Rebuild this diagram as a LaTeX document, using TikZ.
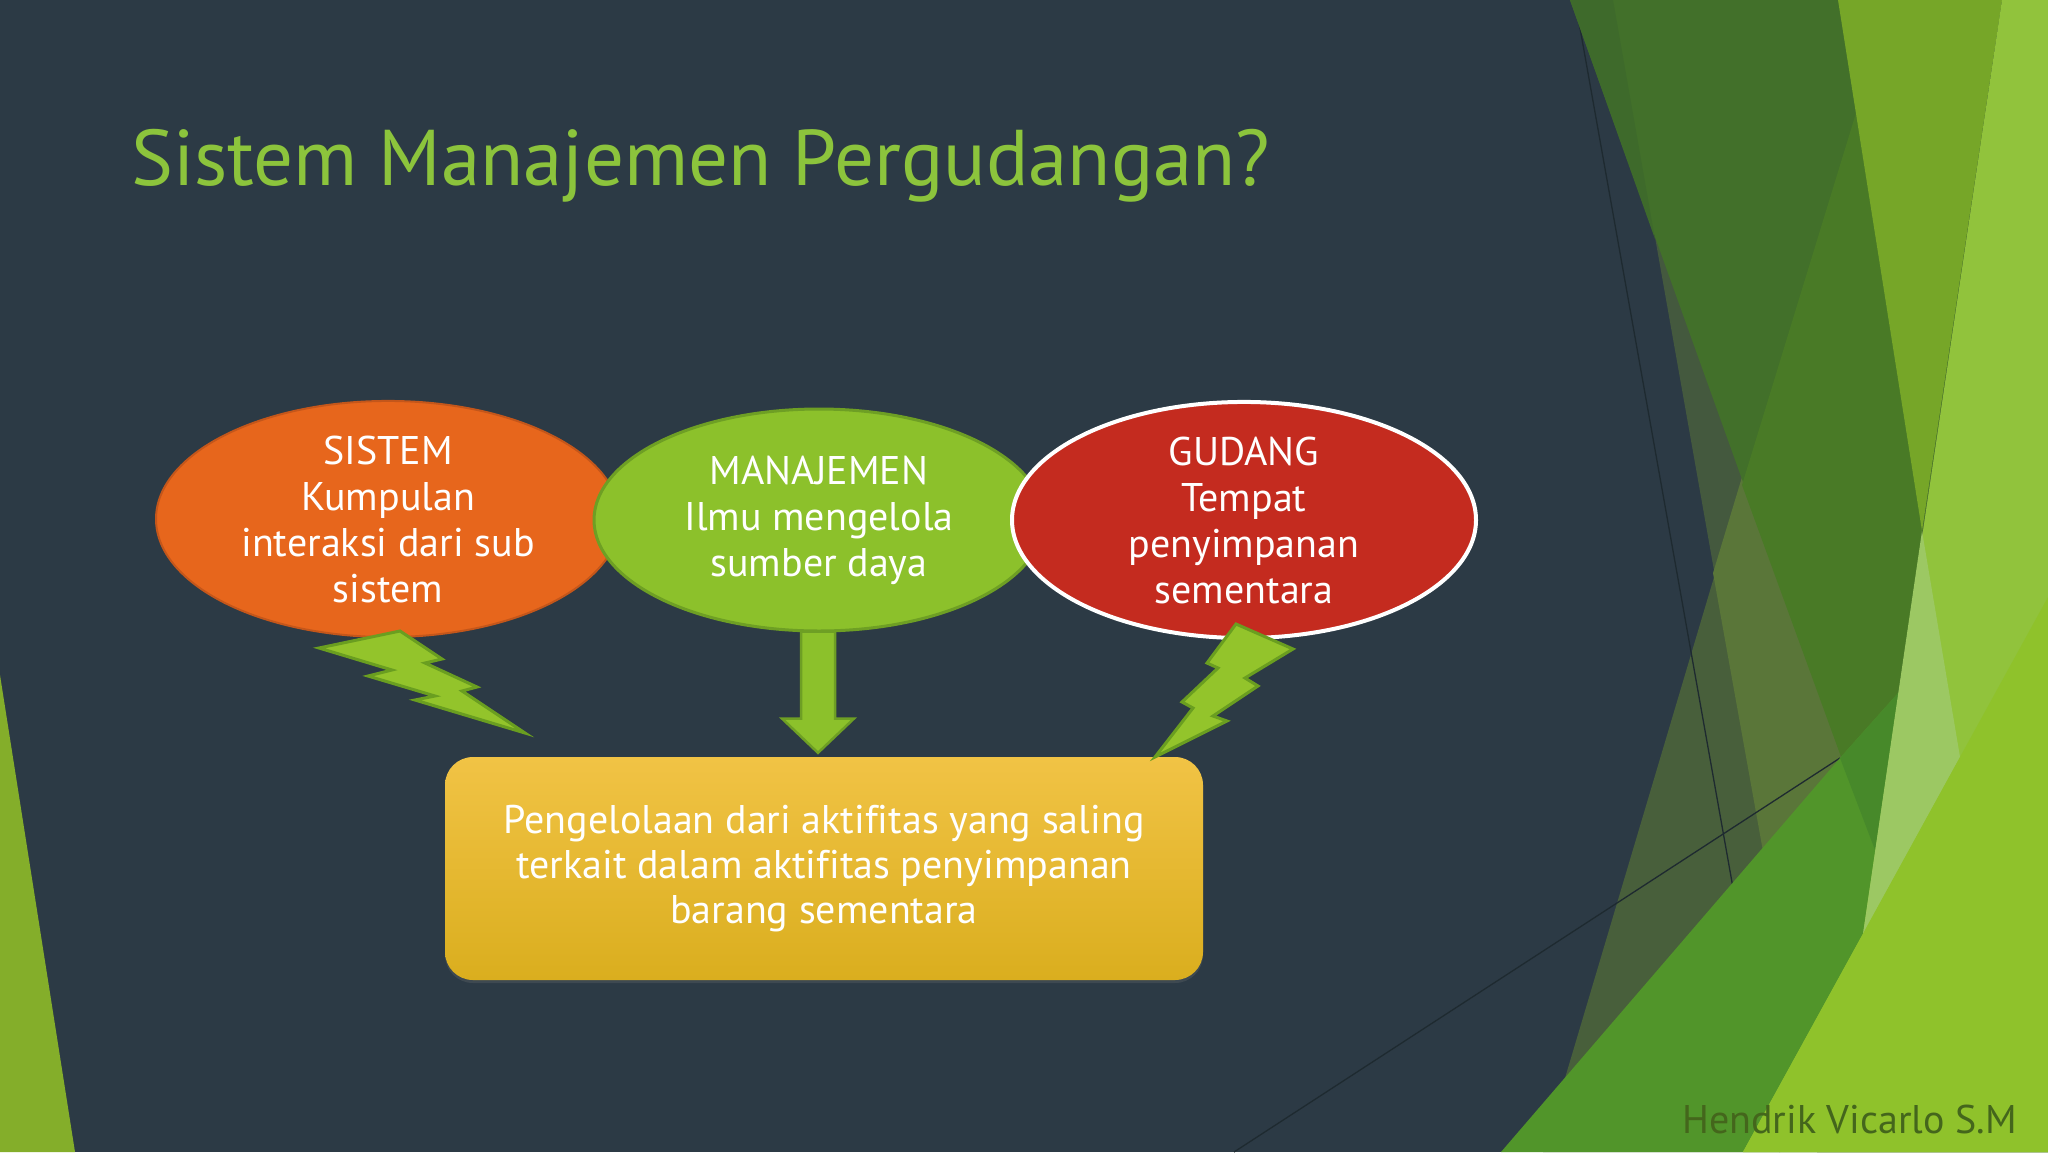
\documentclass[tikz,border=0pt]{standalone}
\usepackage{fontspec}
\setmainfont{PT Sans}[Ligatures=NoCommon]
\usetikzlibrary{shapes.geometric,shadows,calc}
\definecolor{bg}{HTML}{2C3A45}
\definecolor{leftg}{HTML}{84AE2A}
\definecolor{olA}{HTML}{44593E}
\definecolor{olB}{HTML}{485F3B}
\definecolor{olC}{HTML}{5A7639}
\definecolor{fA}{HTML}{42702A}
\definecolor{fAl}{HTML}{3E6A2B}
\definecolor{fAs}{HTML}{497A26}
\definecolor{fC}{HTML}{76A628}
\definecolor{fD}{HTML}{91C33C}
\definecolor{fE}{HTML}{9CC863}
\definecolor{fF}{HTML}{8FC22B}
\definecolor{fG}{HTML}{51952A}
\definecolor{fT}{HTML}{47892A}
\definecolor{thinl}{HTML}{1E2A30}
\definecolor{titlegreen}{HTML}{8CC43C}
\definecolor{footc}{HTML}{44661C}
\definecolor{orangef}{HTML}{E7661C}
\definecolor{oranged}{HTML}{C4561A}
\definecolor{greenf}{HTML}{8CC12B}
\definecolor{greend}{HTML}{6E9F24}
\definecolor{redf}{HTML}{C42B1F}
\definecolor{yellowt}{HTML}{F1C345}
\definecolor{yellowb}{HTML}{DAAE1E}
\definecolor{boltf}{HTML}{93C42B}
\definecolor{boltd}{HTML}{6A9E20}
\tikzset{
  bubble/.style={ellipse, inner sep=0pt, minimum width=464pt, minimum height=222pt,
    align=center, text=white, font=\fontsize{40}{46}\selectfont},
  bolt/.style={fill=boltf, draw=boltd, line width=3pt, line join=miter},
  downarrow/.style={fill=greenf, draw=greend, line width=2.5pt, line join=miter},
  thinline/.style={draw=thinl, line width=1.3pt}
}
\begin{document}
\begin{tikzpicture}[x=1pt,y=-1pt]
\useasboundingbox (0,0) rectangle (2048,1152);
\fill[bg] (0,0) rectangle (2048,1152);
% left facet
\fill[leftg] (0,675) -- (75,1152) -- (0,1152) -- cycle;
% right facets (layered so that edges overlap)
\fill[olB] (1853,110) -- (2048,110) -- (2048,1152) -- (1543,1152) -- cycle;
\fill[olA] (1613,0) -- (2048,0) -- (2048,1152) -- (1817,1152) -- cycle;
\fill[olC] (1713,573) -- (1853,110) -- (2048,110) -- (2048,1152) -- (1817,1152) -- cycle;
\draw[thinline] (1575,0) -- (1780,1152);
\draw[thinline] (1234,1152) -- (1840,758);
\fill[fA] (1570,0) -- (2002,0) -- (1875,850) -- cycle;
\fill[fAl] (1570,0) -- (1613,0) -- (1655,239) -- cycle;
\fill[fAs] (1856,113) -- (1922,531) -- (1875,850) -- (1742,485) -- cycle;
\fill[fC] (1838,0) -- (2002,0) -- (1922,531) -- cycle;
\fill[fG] (1501,1152) -- (1840,758) -- (1899,692) -- (2048,600) -- (2048,1152) -- cycle;
\fill[fT] (1840,758) -- (1899,692) -- (1875,850) -- cycle;
\fill[fD] (2002,0) -- (2048,0) -- (2048,1152) -- (1743,1152) -- (1863,934) -- cycle;
\fill[fE] (1922,531) -- (1960,757) -- (1863,934) -- cycle;
\fill[fF] (2048,597) -- (2048,1152) -- (1743,1152) -- (1960,757) -- cycle;

% title
\node[anchor=base west, inner sep=0pt, text=titlegreen, font=\fontsize{79}{90}\selectfont]
  (title) at (131,185) {Sistem Manajemen Pergudangan?};

% bubbles
\node[bubble, fill=orangef, draw=oranged, line width=2pt] (sis) at (388,519)
  {SISTEM\\Kumpulan\\interaksi dari sub\\sistem};
\node[bubble, fill=greenf, draw=greend, line width=3pt, minimum width=450pt] (man) at (819,520)
  {MANAJEMEN\\Ilmu mengelola\\sumber daya};
\node[bubble, fill=redf, draw=white, line width=4pt] (gud) at (1244,520)
  {GUDANG\\Tempat\\penyimpanan\\sementara};

% box
\node[rectangle, rounded corners=28pt, top color=yellowt, bottom color=yellowb,
  minimum width=758pt, minimum height=223pt, inner sep=0pt, align=center, text=white,
  font=\fontsize{40}{45}\selectfont,
  drop shadow={opacity=0.22, shadow xshift=0pt, shadow yshift=-3pt}] (box) at (824,868.5)
  {Pengelolaan dari aktifitas yang saling\\terkait dalam aktifitas penyimpanan\\barang sementara};

% down arrow from MANAJEMEN to box
\coordinate (as) at ($(man.south)+(-1,-1)$);
\coordinate (ae) at ($(box.north)+(-6,-4)$);
\draw[downarrow] ($(as)+(-17,0)$) -- ($(as)+(17,0)$) -- ($(as)+(17,87)$) -- ($(as)+(36,87)$)
  -- (ae) -- ($(as)+(-36,87)$) -- ($(as)+(-17,87)$) -- cycle;

% lightning bolts
\draw[bolt] (400,631) -- (442,659) -- (425,663) -- (477,687) -- (462,691) -- (525,733)
  -- (415,700) -- (435,696) -- (368,676) -- (392,670) -- (319,648) -- cycle;
\draw[bolt] (1236,624) -- (1293,649) -- (1245,678) -- (1258,686) -- (1213,716) -- (1227,721)
  -- (1155,757) -- (1193,708) -- (1182,702) -- (1218,668) -- (1207,663) -- cycle;

% footer
\node[anchor=base west, inner sep=0pt, text=footc, font=\fontsize{40}{44}\selectfont]
  (foot) at (1682,1133) {Hendrik Vicarlo S.M};
\end{tikzpicture}
\end{document}
